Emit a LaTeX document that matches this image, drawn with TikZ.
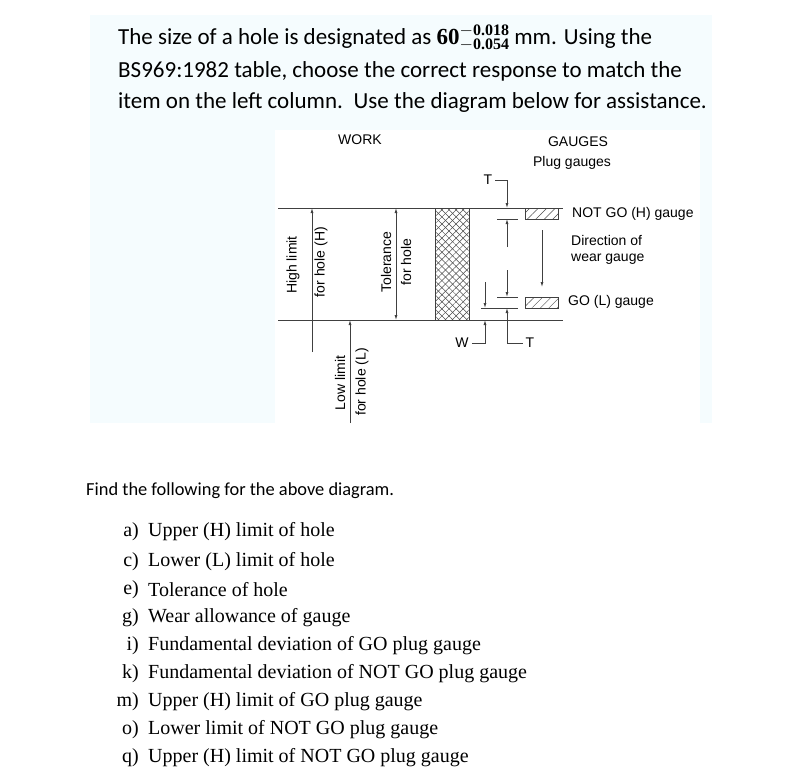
\documentclass[tikz,border=0pt]{standalone}
\usepackage{fontspec}
\setmainfont{Carlito}
\newfontfamily\arial{Liberation Sans}
\newfontfamily\tnr{Liberation Serif}
\usetikzlibrary{patterns.meta,arrows.meta}
\begin{document}
\begin{tikzpicture}[x=1pt,y=-1pt,
  dl/.style={draw=black!75,line width=0.8pt},
  ar/.style={dl,-{Latex[length=5pt,width=3pt]}},
  lab/.style={font=\arial\fontsize{14}{16}\selectfont,inner sep=0pt},
  rlab/.style={lab,rotate=90},
  title/.style={font=\fontsize{23}{26}\selectfont,anchor=west,inner sep=0pt},
  item/.style={font=\tnr\fontsize{20}{22}\selectfont,inner sep=0pt}]
\useasboundingbox (0,0) rectangle (800,772);
\fill[cyan!4] (90,15) rectangle (712,423);
\fill[white] (275,130) rectangle (700,423);
\node[title] (t1) at (118,38) {The size of a hole is designated as {\tnr\bfseries 60}{\tnr\bfseries\fontsize{16}{16}\selectfont\rlap{\raisebox{9pt}{$-$0.018}}\raisebox{-5pt}{$-$0.054}} mm. Using the};
\node[title] (t2) at (118,71) {BS969:1982 table, choose the correct response to match the};
\node[title] (t3) at (118,102) {item on the left column.\, Use the diagram below for assistance.};
% diagram
\coordinate (tl) at (278,208); \coordinate (tr) at (563,208);
\coordinate (bl) at (278,320); \coordinate (br) at (563,320);
\draw[dl] (tl) -- (tr); \draw[dl] (bl) -- (br);
\node[lab] (work) at (360,140) {WORK};
\node[lab] (gau) at (578,142) {GAUGES};
\node[lab] (plug) at (572,163) {Plug gauges};
\coordinate (h0) at (312,352); \coordinate (h1) at (312,208);
\draw[ar] (h0) -- (h1);
\node[rlab] (hl1) at (293,265) {High limit};
\node[rlab] (hl2) at (321,262) {for hole (H)};
\coordinate (l0) at (350,423); \coordinate (l1) at (350,320);
\draw[ar] (l0) -- (l1);
\node[rlab] (ll1) at (340,383) {Low limit};
\node[rlab] (ll2) at (362,382) {for hole (L)};
\coordinate (tt0) at (396,208); \coordinate (tt1) at (396,320);
\draw[dl,{Latex[length=5pt,width=3pt]}-{Latex[length=5pt,width=3pt]}] (tt0) -- (tt1);
\node[rlab] (to1) at (386,262) {Tolerance};
\node[rlab] (to2) at (406,262) {for hole};
\fill[pattern={Lines[angle=45,distance=5pt,line width=0.5pt]},pattern color=black!70] (435,208) rectangle (469,320);
\fill[pattern={Lines[angle=-45,distance=5pt,line width=0.5pt]},pattern color=black!70] (435,208) rectangle (469,320);
\draw[dl] (435,208) rectangle (469,320);
% tolerance marks
\node[lab] (T1) at (488,180) {T};
\draw[ar] (T1.east)++(3,0) -| (507,208);
\draw[dl] (497,219) -- (518,219);
\draw[ar] (507,247) -- (507,219);
\draw[ar] (507,270) -- (507,297);
\draw[dl] (497,297) -- (518,297);
\draw[dl] (481,308) -- (518,308);
\node[lab] (W) at (462,343) {W};
\draw[ar] (485,282) -- (485,308);
\draw[ar] (W.east)++(3,0) -| (485,320);
\node[lab] (T2) at (530,343) {T};
\draw[ar] (T2.west)++(-3,0) -| (507,308);
\fill[pattern={Lines[angle=45,distance=6pt,line width=0.5pt]},pattern color=black!70] (525,208) rectangle (558,219);
\draw[dl] (525,208) rectangle (558,219);
\fill[pattern={Lines[angle=45,distance=6pt,line width=0.5pt]},pattern color=black!70] (525,297) rectangle (558,308);
\draw[dl] (525,297) rectangle (558,308);
\draw[ar] (542,230) -- (542,287);
\node[lab,anchor=west] (ng) at (572,214) {NOT GO (H) gauge};
\node[lab,anchor=west,align=left] (dw) at (571,250) {Direction of\\wear gauge};
\node[lab,anchor=west] (go) at (568,302) {GO (L) gauge};
% questions
\node[anchor=west,inner sep=0pt,font=\fontsize{18.4}{20}\selectfont] (find) at (86,491) {Find the following for the above diagram.};
\foreach \l/\t/\y in {a/Upper (H) limit of hole/532, c/Lower (L) limit of hole/562, e/Tolerance of hole/590, g/Wear allowance of gauge/618, i/Fundamental deviation of GO plug gauge/646, k/Fundamental deviation of NOT GO plug gauge/674, m/Upper (H) limit of GO plug gauge/702, o/Lower limit of NOT GO plug gauge/730, q/Upper (H) limit of NOT GO plug gauge/758}{
  \node[item,anchor=east] (l\l) at (139,\y) {\l)};
  \node[item,anchor=west] (i\l) at (148,\y) {\t};
}
\end{tikzpicture}
\end{document}
